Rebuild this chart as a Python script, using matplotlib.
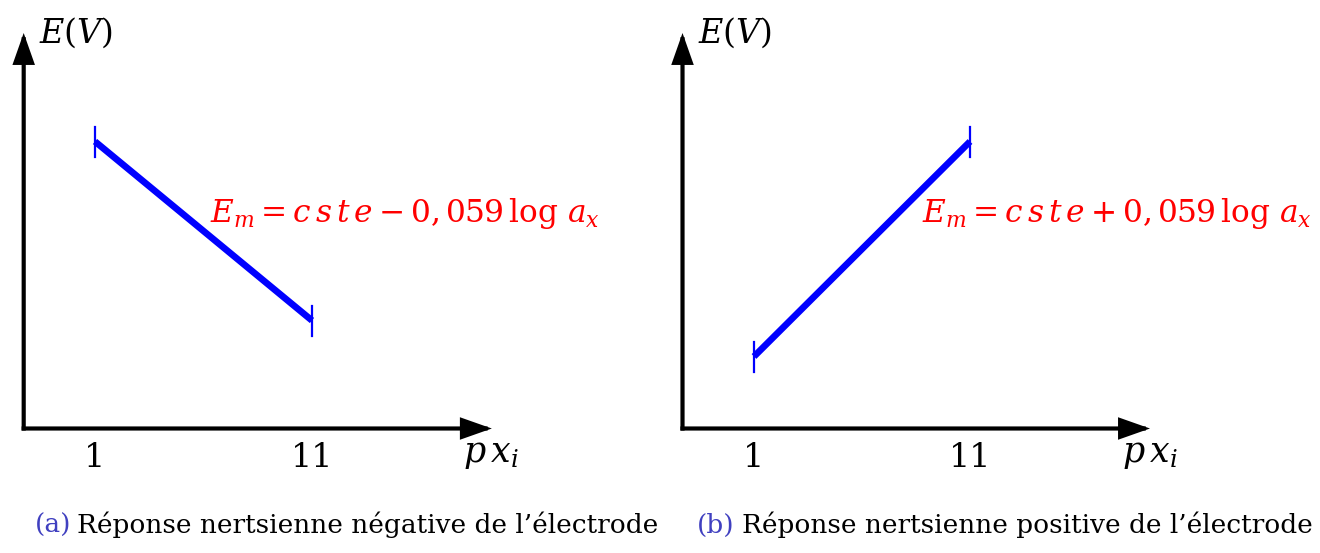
import matplotlib
matplotlib.use("Agg")
import matplotlib.pyplot as plt
from matplotlib.patches import FancyArrowPatch

plt.rcParams['mathtext.fontset'] = 'dejavuserif'
plt.rcParams['font.family'] = ['DejaVu Serif']

# ---- data ----
px_ticks = [1, 11]
px_tick_labels = ["1", "11"]
px_neg = [1, 11]
E_neg = [287, 108]
px_pos = [1, 11]
E_pos = [72, 287]
eq_neg = r"$E_m = c\,s\,t\,e - 0{,}\,059\,\log\,a_x$"
eq_pos = r"$E_m = c\,s\,t\,e + 0{,}\,059\,\log\,a_x$"
ylabel = r"$E(V)$"
xlabel = r"$p\,x_i$"
captions = [("(a)", "Réponse nertsienne négative de l’électrode"),
            ("(b)", "Réponse nertsienne positive de l’électrode")]

W, H = 1320, 553
fig = plt.figure(figsize=(W / 100, H / 100), dpi=100)

BLUE = '#0000ff'
RED = '#ff0000'
CAPBLUE = '#4040c0'

panels = [
    dict(rect=[0, 0, 0.5, 1], xlim=(-3.378, 27.04), x0=-2.286, xtip=19.29,
         px=px_neg, E=E_neg, eq=eq_neg, eqx=6.30, ylx=-1.58, xlx=17.96),
    dict(rect=[0.5, 0, 0.5, 1], xlim=(-3.352, 27.20), x0=-2.31, xtip=19.33,
         px=px_pos, E=E_pos, eq=eq_pos, eqx=8.76, ylx=-1.58, xlx=18.02),
]

for p in panels:
    ax = fig.add_axes(p['rect'])
    ax.set_xlim(*p['xlim'])
    ax.set_ylim(-124.5, 428.5)
    ax.axis('off')
    x0 = p['x0']
    # axes arrows
    style = "-|>,head_length=0.85,head_width=0.3"
    for start, end in [((x0, 0), (x0, 395.5)), ((x0, 0), (p['xtip'], 0))]:
        ax.add_patch(FancyArrowPatch(start, end, arrowstyle=style,
                                     mutation_scale=20, lw=3.0, color='black',
                                     shrinkA=0, shrinkB=0, joinstyle='miter',
                                     capstyle='projecting'))
    # response line
    ax.plot(p['px'], p['E'], color=BLUE, lw=4.8, solid_capstyle='butt')
    for xv, ev in zip(p['px'], p['E']):
        ax.plot([xv, xv], [ev - 15, ev + 15], color=BLUE, lw=1.6)
    # ticks labels
    for t, lab in zip(px_ticks, px_tick_labels):
        ax.text(t, -38.5, lab, ha='center', va='baseline', fontsize=24)
    ax.text(p['ylx'], 385.5, ylabel, ha='left', va='baseline', fontsize=24)
    ax.text(p['xlx'], -33.5, xlabel, ha='left', va='baseline', fontsize=25)
    ax.text(p['eqx'], 206.5, p['eq'], ha='left', va='baseline', fontsize=22.5, color=RED)

cap_pos = [(35, 77), (697, 742)]
for (lab, txt), (xa, xb) in zip(captions, cap_pos):
    fig.text(xa / W, 1 - 533 / H, lab, ha='left', va='baseline', fontsize=19, color=CAPBLUE)
    fig.text(xb / W, 1 - 533 / H, txt, ha='left', va='baseline', fontsize=19, color='black')

fig.savefig("out.png", dpi=100)
